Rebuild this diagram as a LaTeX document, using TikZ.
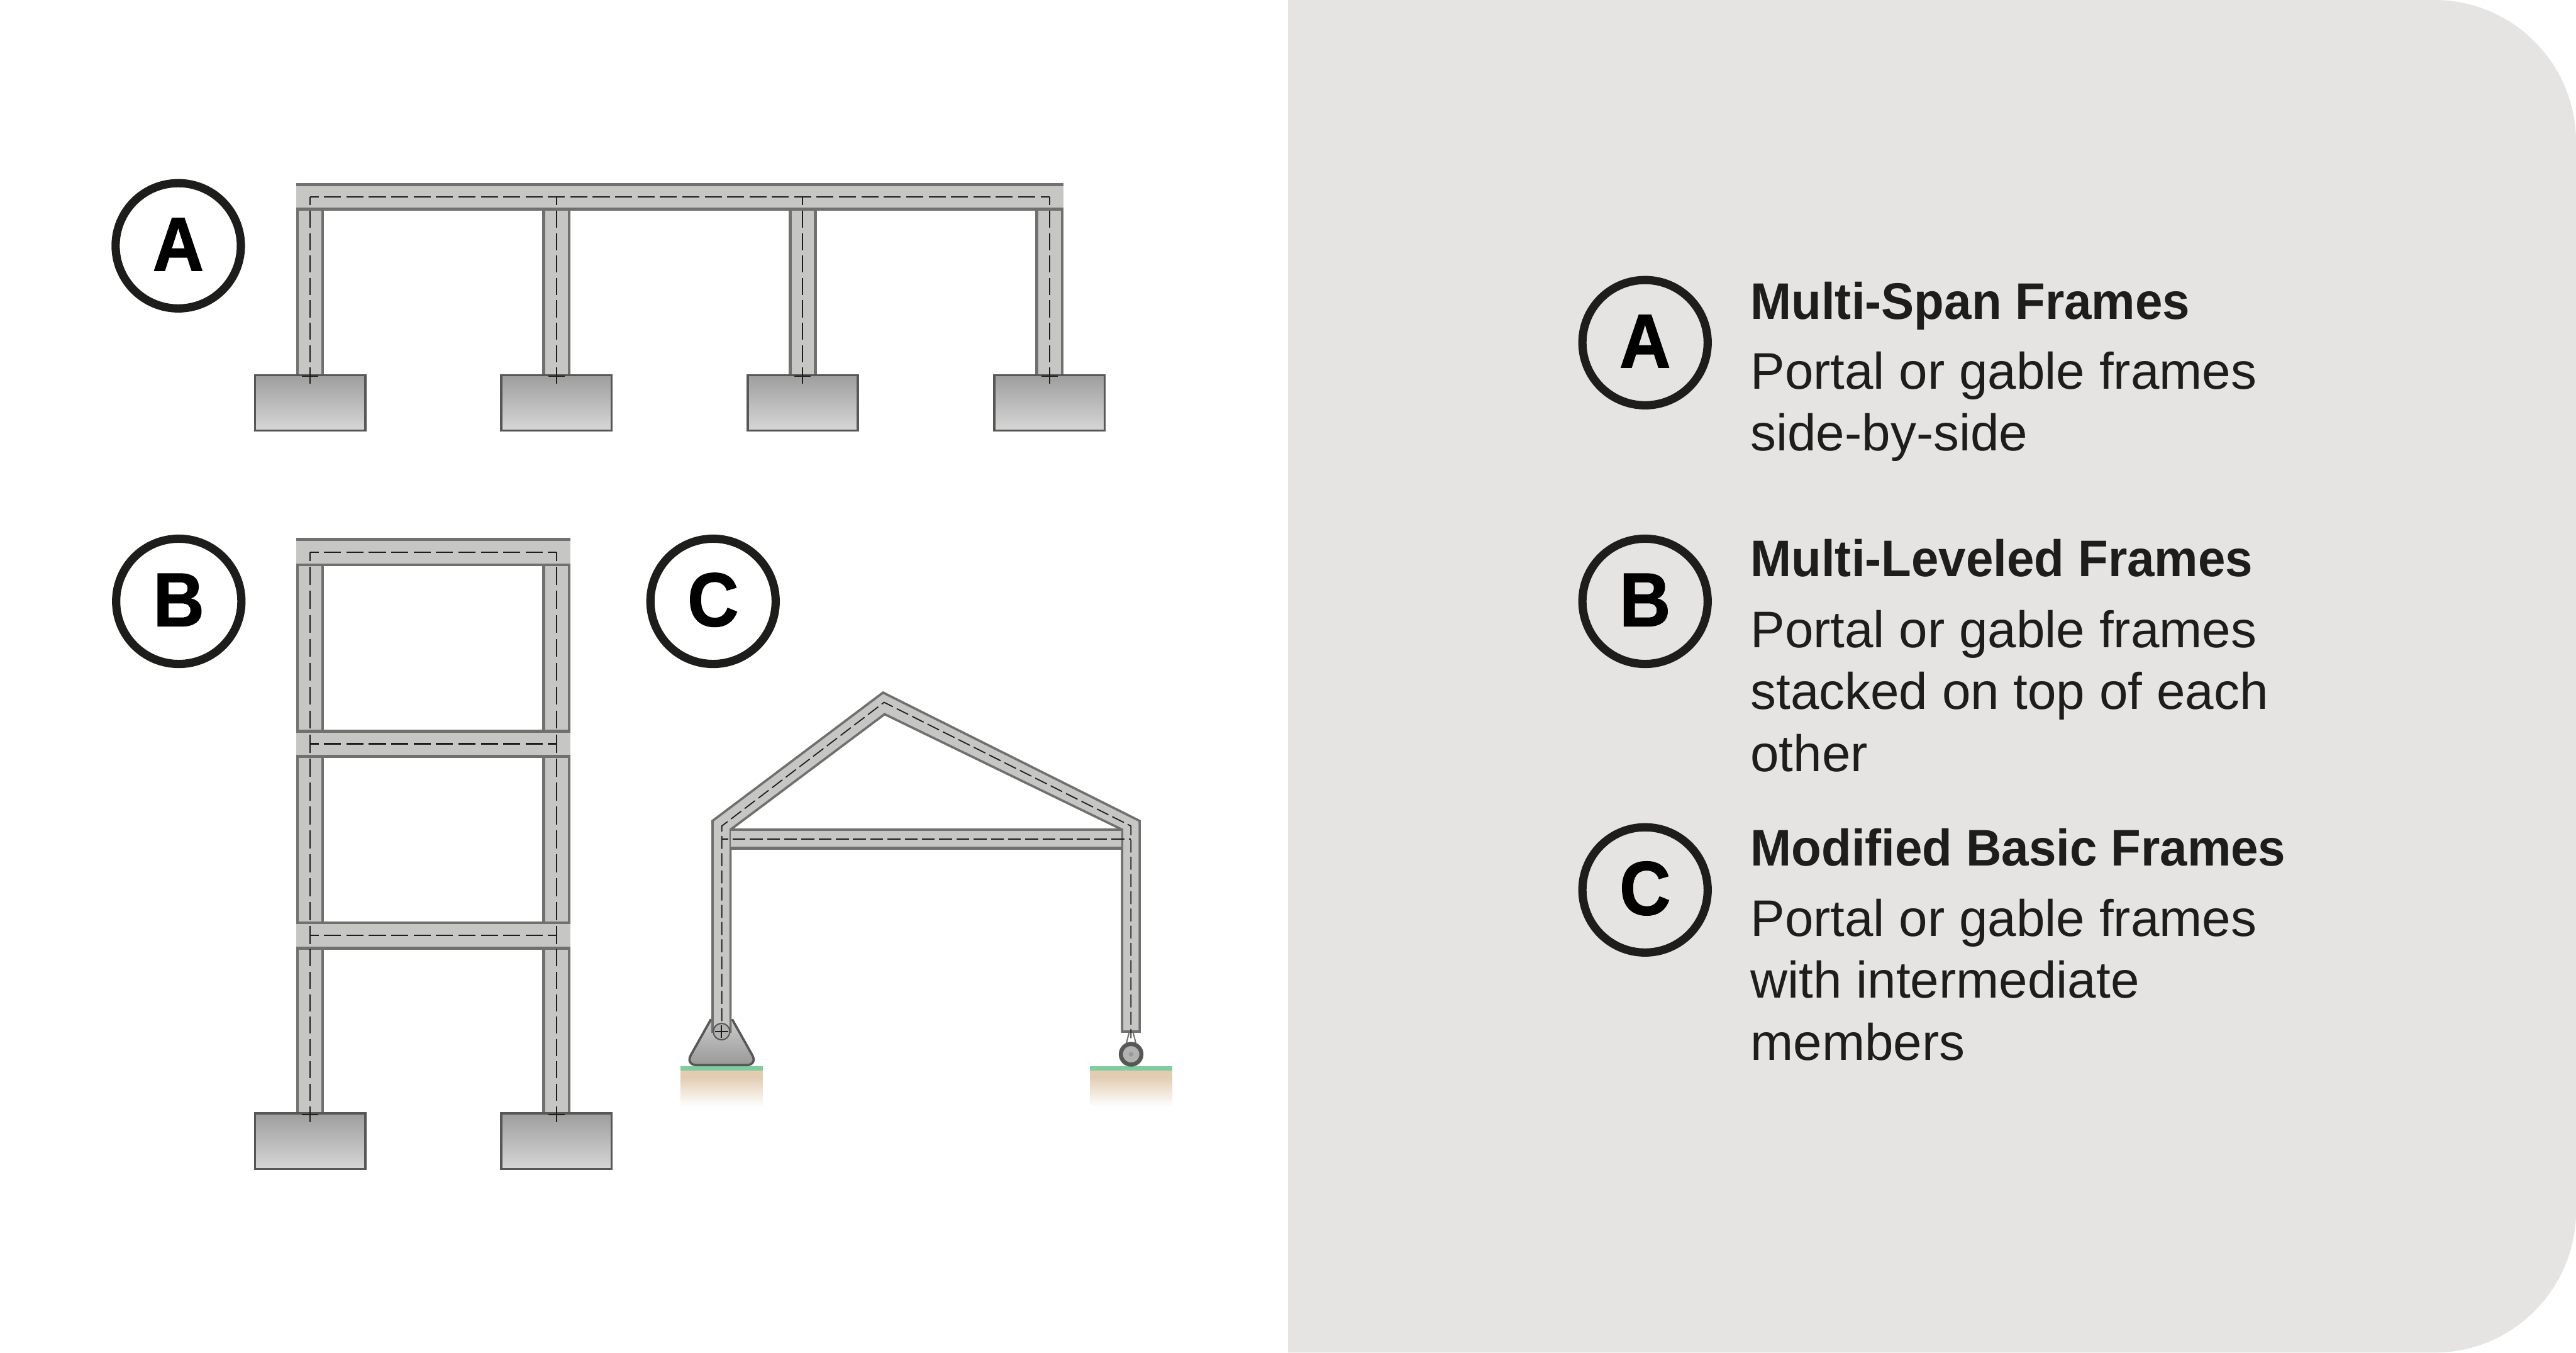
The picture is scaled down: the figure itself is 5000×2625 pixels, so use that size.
\documentclass[tikz,border=0pt]{standalone}
\usepackage{fontspec}
\setmainfont{Liberation Sans}
\newfontface\headface[FakeStretch=0.955]{Liberation Sans Bold}
\newfontface\badgeface[FakeStretch=0.93,FakeBold=1.2]{Liberation Sans Bold}
\definecolor{panelgrey}{HTML}{E5E4E2}
\definecolor{inkblack}{HTML}{1D1D1B}
\definecolor{memberfill}{HTML}{C6C6C4}
\definecolor{memberline}{HTML}{70706E}
\definecolor{supportline}{HTML}{575756}
\definecolor{grassgreen}{HTML}{80CBA0}
\definecolor{soiltan}{HTML}{E2CDB3}
\tikzset{
  member/.style={fill=memberfill, draw=none},
  edgeline/.style={draw=memberline, line width=0.055cm},
  axisline/.style n args={3}{draw=inkblack, line width=0.028cm, dash pattern=on #1cm off #2cm, dash phase=#3cm},
  axiswide/.style={axisline={0.33}{0.1045}{0.165}},
  axistall/.style={axisline={0.35}{0.114}{0.175}},
  axistight/.style={axisline={0.25}{0.084}{0.125}, line width=0.022cm},
  tickline/.style={draw=inkblack, line width=0.03cm},
  footingbox/.style={draw=supportline, line width=0.045cm, top color=black!38, bottom color=black!16},
  badge/.style={circle, draw=inkblack, line width=0.16cm, minimum size=2.43cm, inner sep=0pt,
    text=black, text height=1.06cm, text depth=0.1cm, font=\fontsize{42}{42}\badgeface\selectfont},
  headtext/.style={anchor=base west, inner sep=0pt, text=inkblack, font=\fontsize{28.4}{34.14}\headface\selectfont},
  bodytext/.style={anchor=base west, inner sep=0pt, text=inkblack, align=left, font=\fontsize{28.4}{34.14}\selectfont},
  footing/.pic={
    \draw[footingbox] (-107,0) rectangle (107,107.5);
    \draw[tickline] (-16,2)--(16,2);
  },
  groundpad/.pic={
    \fill[grassgreen] (-80,0) rectangle (80,9);
    \fill[soiltan] (-80,9) rectangle (80,22);
    \shade[top color=soiltan, bottom color=white] (-80,22) rectangle (80,78);
  }
}
\begin{document}
\begin{tikzpicture}[x=0.01cm,y=-0.01cm]

  \useasboundingbox (0,0) rectangle (5000,2625);
  \fill[white] (0,0) rectangle (5000,2625);
  \fill[panelgrey] (2500,0) [rounded corners=2.75cm] -- (5000,0) -- (5000,2625) [sharp corners] -- (2500,2625) -- cycle;

  % frame A
  \foreach \xcol in {602,1080,1558,2037}{
    \fill[member] (\xcol-27,382) rectangle (\xcol+27,727);
    \draw[edgeline] (\xcol-24.5,382)--(\xcol-24.5,727);
    \draw[edgeline] (\xcol+24.5,382)--(\xcol+24.5,727);
    \pic at (\xcol,728) {footing};
  }
  \fill[member] (575,355) rectangle (2064,409);
  \draw[edgeline] (575,358)--(2064,358);
  \draw[edgeline] (575,406)--(2064,406);
  \foreach \xcol in {602,1080,1558,2037}{
    \draw[axiswide] (\xcol,382)--(\xcol,745);
  }
  \draw[axiswide] (602,382)--(1080,382);
  \draw[axiswide] (1080,382)--(1558,382);
  \draw[axiswide] (1558,382)--(2037,382);

  % frame B
  \foreach \xcol in {602,1080}{
    \fill[member] (\xcol-27,1071) rectangle (\xcol+27,2160);
    \draw[edgeline] (\xcol-24.5,1071)--(\xcol-24.5,2160);
    \draw[edgeline] (\xcol+24.5,1071)--(\xcol+24.5,2160);
    \pic at (\xcol,2161) {footing};
  }
  \foreach \ybeam in {1071.5,1443.5,1815.5}{
    \fill[member] (575,\ybeam-27) rectangle (1107,\ybeam+27);
    \draw[edgeline] (575,\ybeam-24.5)--(1107,\ybeam-24.5);
    \draw[edgeline] (575,\ybeam+24.5)--(1107,\ybeam+24.5);
    \draw[axiswide] (602,\ybeam)--(1080,\ybeam);
  }
  \foreach \xcol in {602,1080}{
    \draw[axistall] (\xcol,1071.5)--(\xcol,1443.5);
    \draw[axistall] (\xcol,1443.5)--(\xcol,1815.5);
    \draw[axiswide] (\xcol,1815.5)--(\xcol,2178);
  }

  % frame C
  \pic at (1400.5,2069) {groundpad};
  \pic at (2195.5,2069) {groundpad};
  \draw[footingbox, top color=black!20, bottom color=black!40, rounded corners=0.22cm]
    (1380,1978)--(1330,2067)--(1471,2067)--(1421,1978);
  \draw[member, edgeline, line width=0.045cm] (1383,2002)--(1383,1593)--(1714,1344)--(2212,1593)--(2212,2002)--(2178,2002)
    --(2178,1610)--(1717,1386)--(1418,1610)--(1418,2002)--cycle;
  \fill[member] (1419,1608) rectangle (2176,1648);
  \draw[edgeline, line width=0.04cm] (1419,1610)--(2176,1610);
  \draw[edgeline] (1419,1646)--(2176,1646);
  \draw[axistight, dash phase=0cm] (1401,2015)--(1401,1603)--(1716,1363)--(2195,1603)--(2195,2015);
  \draw[axistight] (1401,1628)--(2195,1628);
  % pin and roller
  \draw[draw=supportline, line width=0.025cm, fill=black!30] (1400.5,2002) circle [radius=16];
  \draw[tickline, line width=0.025cm] (1388,2002)--(1413,2002);
  \draw[tickline, line width=0.025cm] (1400.5,1990)--(1400.5,2014);
  \draw[draw=memberline, line width=0.025cm] (2192,2002)--(2185,2030);
  \draw[draw=memberline, line width=0.025cm] (2199,2002)--(2206,2030);
  \draw[draw=supportline, line width=0.08cm, fill=black!30] (2195.5,2046) circle [radius=20];
  \fill[black!40] (2195.5,2046) circle [radius=4.5];

  % badges on the frames
  \node[badge, fill=white] (frameA) at (346,477) {A};
  \node[badge, fill=white] (frameB) at (347,1167) {B};
  \node[badge, fill=white] (frameC) at (1384,1167) {C};

  % legend
  \node[badge] (keyA) at (3193,665) {A};
  \node[headtext] (headA) at (3397,620) {Multi-Span Frames};
  \node[bodytext] (bodyA) at (3397,875) {Portal or gable frames\\side-by-side};

  \node[badge] (keyB) at (3193,1167) {B};
  \node[headtext] (headB) at (3397,1119) {Multi-Leveled Frames};
  \node[bodytext] (bodyB) at (3397,1497) {Portal or gable frames\\stacked on top of each\\other};

  \node[badge] (keyC) at (3193,1727) {C};
  \node[headtext] (headC) at (3397,1680) {Modified Basic Frames};
  \node[bodytext] (bodyC) at (3397,2057) {Portal or gable frames\\with intermediate\\members};

\end{tikzpicture}
\end{document}
